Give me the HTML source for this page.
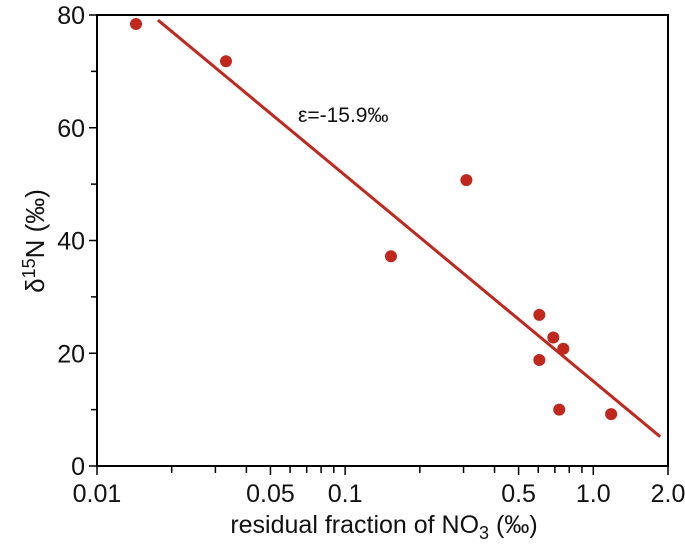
<!DOCTYPE html>
<html><head><meta charset="utf-8"><style>
body{margin:0;background:#fff}
svg{display:block;font-family:"Liberation Sans",sans-serif}
</style></head><body>
<svg id="chart" width="685" height="557" viewBox="0 0 685 557"></svg>
<script>
const xVals=[0.01436,0.0331,0.153,0.308,0.606,0.606,0.69,0.757,0.729,1.18];
const yVals=[78.4,71.8,37.2,50.7,26.8,18.8,22.8,20.8,10.0,9.2];
const fitX=[0.0176,1.86];
const fitY=[79.1,5.2];
const xTickVals=[0.01,0.05,0.1,0.5,1.0,2.0];
const xTickLabels=["0.01","0.05","0.1","0.5","1.0","2.0"];
const yTickVals=[0,20,40,60,80];
const L=97,R=668,T=15,B=466;
const xs=v=>L+(Math.log10(v)-Math.log10(0.01))/(Math.log10(2)-Math.log10(0.01))*(R-L);
const ys=v=>B-(v/80)*(B-T);
const svg=document.getElementById('chart');
const NS="http://www.w3.org/2000/svg";
function mk(t,a){const e=document.createElementNS(NS,t);for(const k in a)e.setAttribute(k,a[k]);svg.appendChild(e);return e;}
let e=mk('rect',{x:L,y:T,width:R-L,height:B-T,fill:'none',stroke:'#000','stroke-width':2});


for(let d=0.01;d<2;d*=10){for(let m=1;m<10;m++){const v=d*m;if(v>2.0001)break;const x=xs(v);const major=xTickVals.some(t=>Math.abs(t-v)<1e-9);
e=mk('line',{x1:x,y1:B,x2:x,y2:B+(major?9:7),stroke:'#000','stroke-width':1.5});

}}
xTickVals.forEach((v,i)=>{e=mk('text',{x:xs(v),y:B+36,'text-anchor':'middle','font-size':25,fill:'#111'});e.textContent=xTickLabels[i];

});
for(let v=0;v<=80;v+=10){const y=ys(v);
e=mk('line',{x1:L-(v%20===0?8:6),y1:y,x2:L,y2:y,stroke:'#000','stroke-width':1.5});

}
yTickVals.forEach(v=>{e=mk('text',{x:L-12,y:ys(v)+9,'text-anchor':'end','font-size':25,fill:'#111'});e.textContent=v;

});
e=mk('line',{x1:xs(fitX[0]),y1:ys(fitY[0]),x2:xs(fitX[1]),y2:ys(fitY[1]),stroke:'#c0281e','stroke-width':3});


xVals.forEach((v,i)=>{e=mk('circle',{cx:xs(v),cy:ys(yVals[i]),r:6,fill:'#c0281e'});

});
e=mk('text',{x:298,y:122,'font-size':21,fill:'#111'});e.textContent='ε=-15.9‰';


e=mk('text',{x:384,y:533,'text-anchor':'middle','font-size':25,fill:'#111'});
e.innerHTML='residual fraction of NO<tspan font-size="18" dy="6">3</tspan><tspan dy="-6"> (‰)</tspan>';


e=mk('text',{x:0,y:0,'text-anchor':'middle','font-size':26,fill:'#111',transform:'translate(44,241) rotate(-90)'});
e.innerHTML='δ<tspan font-size="18" dy="-9">15</tspan><tspan dy="9">N (‰)</tspan>';


</script>
</body></html>
